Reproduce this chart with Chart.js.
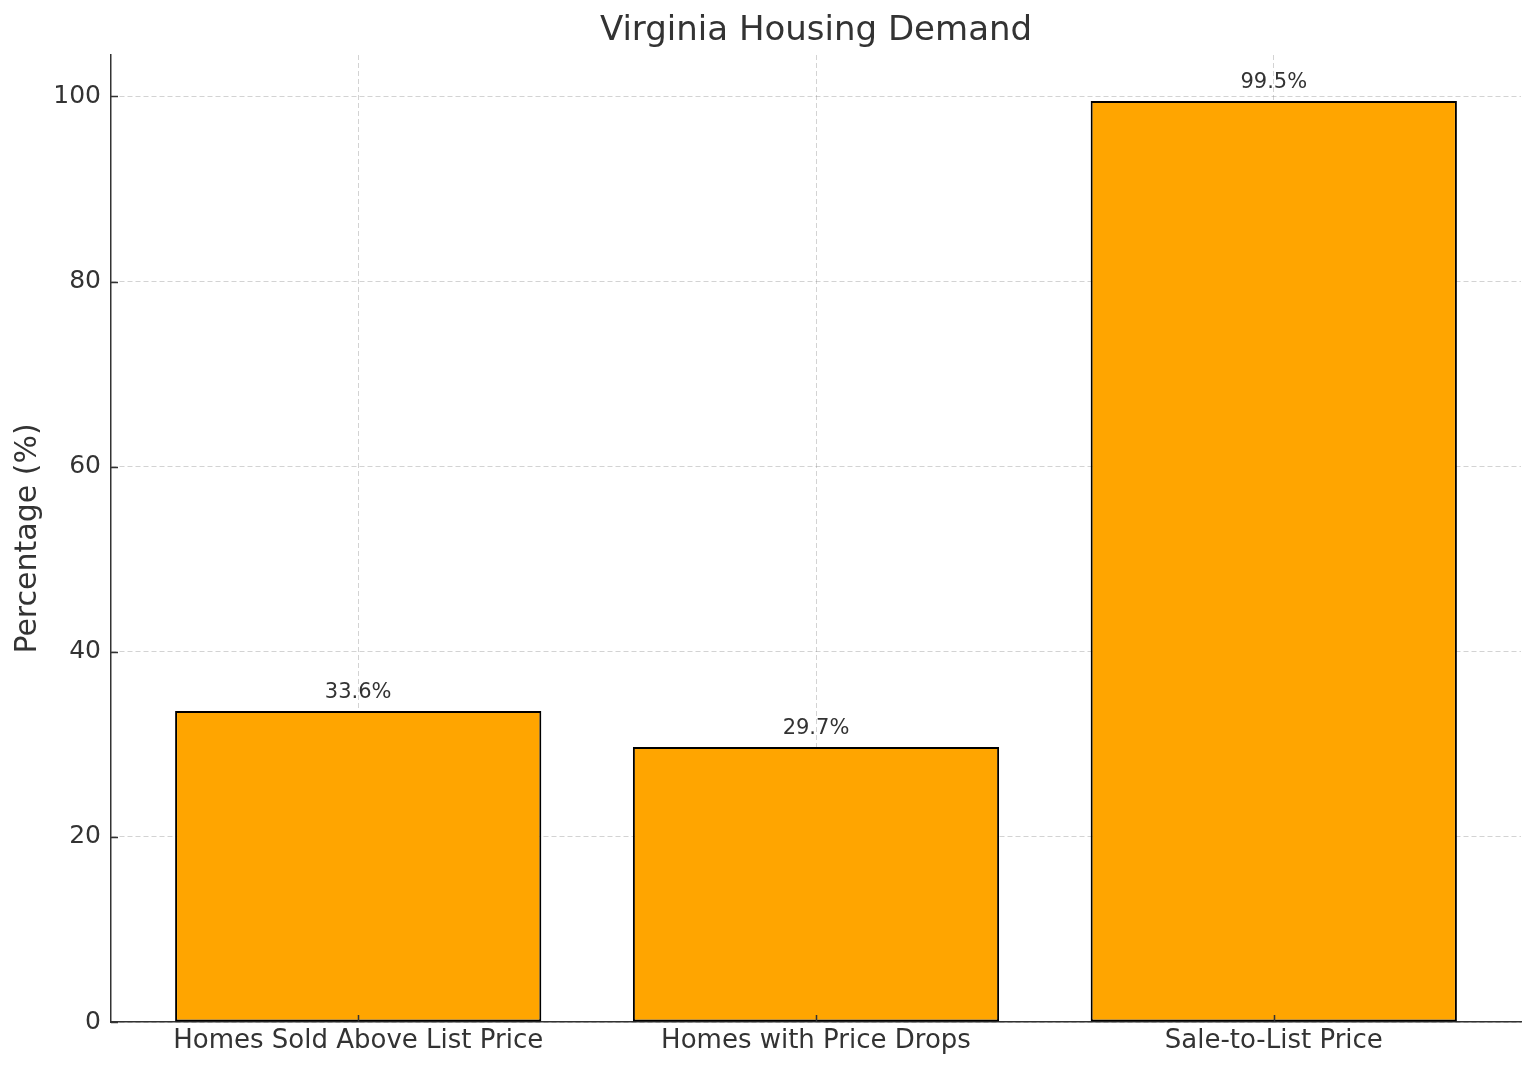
<!DOCTYPE html>
<html>
<head>
<meta charset="utf-8">
<script src="https://cdn.jsdelivr.net/npm/chart.js@4"></script>
<style>
  html, body { margin: 0; padding: 0; background: #fff; }
  #wrap { width: 1536px; height: 1071px; }
</style>
</head>
<body>
<div id="wrap"><canvas id="demandChart"></canvas></div>
<script>
// Chart data
const chartTitle = 'Virginia Housing Demand';
const categories = ['Homes Sold Above List Price', 'Homes with Price Drops', 'Sale-to-List Price'];
const percentages = [33.6, 29.7, 99.5];
const yTicks = [0, 20, 40, 60, 80, 100];

const textColor = '#333333';
const fontFamily = '"DejaVu Sans", sans-serif';

// Title centred over the plot area (matplotlib style)
const plotTitle = {
    id: 'plotTitle',
    afterDraw(chart) {
        const ctx = chart.ctx;
        const area = chart.chartArea;
        ctx.save();
        ctx.fillStyle = textColor;
        ctx.font = '34px ' + fontFamily;
        ctx.textAlign = 'center';
        ctx.textBaseline = 'middle';
        ctx.fillText(chartTitle, (area.left + area.right) / 2, 31);
        ctx.restore();
    }
};

// Inward tick marks, like the original
const innerTicks = {
    id: 'innerTicks',
    afterDatasetsDraw(chart) {
        const ctx = chart.ctx;
        const area = chart.chartArea;
        const x = chart.scales.x;
        const y = chart.scales.y;
        ctx.save();
        ctx.strokeStyle = textColor;
        ctx.lineWidth = 1.5;
        ctx.beginPath();
        y.ticks.forEach(t => {
            const py = Math.round(y.getPixelForValue(t.value)) + 0.5;
            ctx.moveTo(area.left, py);
            ctx.lineTo(area.left + 7, py);
        });
        x.ticks.forEach(t => {
            const px = Math.round(x.getPixelForValue(t.value)) + 0.5;
            ctx.moveTo(px, area.bottom);
            ctx.lineTo(px, area.bottom - 7);
        });
        ctx.stroke();
        ctx.restore();
    }
};

// Value labels above each bar
const valueLabels = {
    id: 'valueLabels',
    afterDatasetsDraw(chart) {
        const ctx = chart.ctx;
        const meta = chart.getDatasetMeta(0);
        ctx.save();
        ctx.fillStyle = textColor;
        ctx.font = '21px ' + fontFamily;
        ctx.textAlign = 'center';
        ctx.textBaseline = 'bottom';
        meta.data.forEach((bar, i) => {
            ctx.fillText(percentages[i].toFixed(1) + '%', bar.x, bar.y - 8);
        });
        ctx.restore();
    }
};

const ctx = document.getElementById('demandChart').getContext('2d');
new Chart(ctx, {
    type: 'bar',
    data: {
        datasets: [{
            data: percentages.map((v, i) => ({ x: i, y: v })),
            backgroundColor: '#FFA500',
            borderColor: '#000000',
            borderWidth: 2,
            borderSkipped: false,
            categoryPercentage: 1,
            barPercentage: 0.8
        }]
    },
    options: {
        responsive: true,
        maintainAspectRatio: false,
        animation: false,
        devicePixelRatio: 1,
        layout: { padding: { left: 0, right: 15, top: 55, bottom: 0 } },
        plugins: {
            legend: { display: false },
            tooltip: { enabled: false },
            title: { display: false }
        },
        scales: {
            x: {
                type: 'linear',
                min: -0.54,
                max: 2.54,
                offset: false,
                z: 1,
                afterBuildTicks: scale => {
                    scale.ticks = categories.map((c, i) => ({ value: i }));
                },
                afterFit: scale => { scale.height = 49; },
                ticks: {
                    color: textColor,
                    font: { family: fontFamily, size: 26 },
                    padding: 4,
                    maxRotation: 0,
                    autoSkip: false,
                    callback: value => categories[value]
                },
                grid: {
                    offset: false,
                    color: 'rgba(128,128,128,0.35)',
                    lineWidth: 1,
                    drawTicks: false
                },
                border: { display: true, color: textColor, width: 1.5, dash: [5, 3] }
            },
            y: {
                min: 0,
                max: 104.475,
                z: 1,
                afterBuildTicks: scale => {
                    scale.ticks = yTicks.map(v => ({ value: v }));
                },
                afterFit: scale => { scale.width = 111; },
                title: {
                    display: true,
                    text: 'Percentage (%)',
                    color: textColor,
                    font: { family: fontFamily, size: 30 },
                    padding: { top: 10, bottom: 0 }
                },
                ticks: {
                    color: textColor,
                    font: { family: fontFamily, size: 25 },
                    padding: 10
                },
                grid: {
                    offset: false,
                    color: 'rgba(128,128,128,0.35)',
                    lineWidth: 1,
                    drawTicks: false
                },
                border: { display: true, color: textColor, width: 1.5, dash: [5, 3] }
            }
        }
    },
    plugins: [innerTicks, valueLabels, plotTitle]
});
</script>
</body>
</html>
